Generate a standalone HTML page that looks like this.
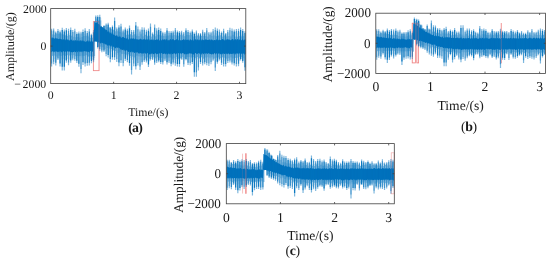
<!DOCTYPE html>
<html><head><meta charset="utf-8"><title>Figure</title>
<style>
html,body{margin:0;padding:0;background:#fff;}
svg{display:block;font-family:"Liberation Serif","Times New Roman",serif;fill:#1a1a1a;text-rendering:geometricPrecision;}
</style></head><body>
<svg width="550" height="262" viewBox="0 0 550 262">
<rect width="550" height="262" fill="#fff"/>
<rect x="93.31" y="21.7" width="5.73" height="49.0" stroke="#EE7A7A" stroke-width="0.7" fill="none" opacity="0.90"/>
<polygon fill="#0072BD" points="51.2,38.4 51.7,37.8 52.1,36.9 52.6,37.8 53.0,38.4 53.5,37.7 54.0,38.3 54.4,38.6 54.9,38.8 55.4,37.5 55.8,38.2 56.3,39.0 56.7,37.8 57.2,38.6 57.7,38.4 58.1,39.3 58.6,39.0 59.1,39.1 59.5,38.4 60.0,38.9 60.4,39.1 60.9,38.8 61.4,39.2 61.8,39.4 62.3,39.9 62.8,39.5 63.2,39.1 63.7,39.6 64.1,40.3 64.6,39.5 65.1,38.7 65.5,40.5 66.0,39.5 66.5,38.9 66.9,39.1 67.4,39.2 67.8,40.2 68.3,39.4 68.8,40.6 69.2,40.3 69.7,40.6 70.2,40.2 70.6,39.5 71.1,40.2 71.5,39.4 72.0,39.6 72.5,41.1 72.9,40.7 73.4,39.8 73.9,41.0 74.3,41.2 74.8,39.8 75.2,40.2 75.7,39.9 76.2,41.4 76.6,40.6 77.1,40.5 77.6,40.0 78.0,41.3 78.5,40.3 78.9,41.2 79.4,41.3 79.9,40.0 80.3,40.7 80.8,39.9 81.3,41.4 81.7,40.0 82.2,40.9 82.6,40.2 83.1,40.6 83.6,40.8 84.0,41.8 84.5,40.4 85.0,41.9 85.4,41.8 85.9,41.9 86.3,40.6 86.8,41.7 87.3,40.9 87.7,40.1 88.2,42.0 88.7,40.3 89.1,40.6 89.6,40.9 90.0,42.0 90.5,41.6 91.0,40.4 91.4,40.9 91.9,41.5 92.4,41.8 92.8,41.2 93.3,40.8 93.7,41.8 94.2,21.7 94.7,20.9 95.1,22.7 95.6,22.7 96.1,22.9 96.5,22.0 97.0,22.9 97.4,23.0 97.9,23.4 98.4,24.0 98.8,24.2 99.3,24.6 99.7,24.4 100.2,25.8 100.7,26.9 101.1,25.8 101.6,26.3 102.1,27.5 102.5,27.3 103.0,27.1 103.4,28.3 103.9,28.2 104.4,28.6 104.8,28.7 105.3,28.9 105.8,30.3 106.2,29.9 106.7,29.8 107.1,30.1 107.6,31.8 108.1,31.7 108.5,31.6 109.0,31.2 109.5,32.1 109.9,33.4 110.4,32.6 110.8,32.8 111.3,32.3 111.8,34.3 112.2,33.9 112.7,33.2 113.2,33.4 113.6,34.7 114.1,35.0 114.5,34.9 115.0,35.3 115.5,35.8 115.9,36.0 116.4,35.4 116.9,34.9 117.3,35.4 117.8,36.7 118.2,36.8 118.7,37.1 119.2,35.6 119.6,36.5 120.1,37.2 120.6,36.0 121.0,37.9 121.5,37.9 121.9,37.1 122.4,36.7 122.9,37.6 123.3,36.8 123.8,37.2 124.3,38.1 124.7,37.8 125.2,38.4 125.6,38.2 126.1,38.6 126.6,38.8 127.0,37.4 127.5,37.5 128.0,39.2 128.4,39.2 128.9,39.4 129.3,39.1 129.8,37.7 130.3,38.3 130.7,39.4 131.2,37.9 131.7,38.7 132.1,38.4 132.6,38.8 133.0,38.5 133.5,38.3 134.0,38.4 134.4,39.6 134.9,38.5 135.4,38.2 135.8,39.6 136.3,39.1 136.7,39.4 137.2,39.6 137.7,39.3 138.1,39.3 138.6,39.9 139.1,39.0 139.5,39.4 140.0,39.6 140.4,38.7 140.9,38.5 141.4,39.4 141.8,39.6 142.3,39.8 142.8,39.4 143.2,39.6 143.7,38.9 144.1,39.8 144.6,38.6 145.1,38.8 145.5,40.0 146.0,39.4 146.5,38.7 146.9,40.0 147.4,39.6 147.8,39.3 148.3,39.3 148.8,38.8 149.2,38.8 149.7,40.4 150.1,40.0 150.6,39.7 151.1,39.4 151.5,39.9 152.0,39.0 152.5,40.1 152.9,40.2 153.4,40.2 153.8,38.8 154.3,40.4 154.8,39.8 155.2,39.9 155.7,40.0 156.2,39.0 156.6,39.8 157.1,39.6 157.5,39.9 158.0,38.8 158.5,39.1 158.9,39.7 159.4,40.5 159.9,40.5 160.3,39.1 160.8,39.3 161.2,40.3 161.7,40.5 162.2,38.8 162.6,40.3 163.1,38.8 163.6,39.9 164.0,40.1 164.5,39.3 164.9,39.1 165.4,39.5 165.9,40.4 166.3,39.5 166.8,38.8 167.3,39.8 167.7,40.6 168.2,40.4 168.6,39.7 169.1,40.6 169.6,40.0 170.0,38.9 170.5,38.9 171.0,39.9 171.4,39.5 171.9,40.6 172.3,38.8 172.8,39.5 173.3,38.9 173.7,39.6 174.2,40.2 174.7,40.2 175.1,40.0 175.6,40.1 176.0,39.3 176.5,39.0 177.0,40.3 177.4,39.0 177.9,39.2 178.4,40.4 178.8,40.1 179.3,39.0 179.7,40.4 180.2,40.6 180.7,39.9 181.1,40.2 181.6,40.5 182.1,39.9 182.5,39.7 183.0,40.1 183.4,39.2 183.9,38.9 184.4,40.4 184.8,39.3 185.3,40.4 185.8,39.0 186.2,39.8 186.7,40.2 187.1,39.4 187.6,39.8 188.1,40.3 188.5,39.3 189.0,40.4 189.5,40.5 189.9,39.2 190.4,39.8 190.8,39.1 191.3,40.6 191.8,40.0 192.2,39.2 192.7,40.5 193.2,39.2 193.6,40.7 194.1,40.6 194.5,39.5 195.0,39.5 195.5,39.4 195.9,39.1 196.4,40.1 196.9,40.4 197.3,39.4 197.8,39.0 198.2,40.4 198.7,39.9 199.2,39.3 199.6,40.6 200.1,39.2 200.5,40.0 201.0,39.5 201.5,39.8 201.9,40.7 202.4,39.6 202.9,39.2 203.3,39.9 203.8,40.2 204.2,39.4 204.7,40.4 205.2,39.6 205.6,39.6 206.1,39.0 206.6,40.0 207.0,39.9 207.5,39.8 207.9,40.1 208.4,39.9 208.9,39.5 209.3,38.9 209.8,40.2 210.3,39.2 210.7,40.6 211.2,39.9 211.6,39.3 212.1,39.4 212.6,40.1 213.0,40.6 213.5,40.4 214.0,39.7 214.4,39.9 214.9,39.9 215.3,40.1 215.8,40.6 216.3,39.7 216.7,39.1 217.2,40.1 217.7,40.2 218.1,40.5 218.6,39.4 219.0,40.0 219.5,39.6 220.0,39.9 220.4,40.1 220.9,40.3 221.4,39.7 221.8,39.3 222.3,39.3 222.7,39.0 223.2,39.1 223.7,40.2 224.1,39.2 224.6,40.5 225.1,40.6 225.5,39.6 226.0,40.4 226.4,39.6 226.9,39.2 227.4,39.6 227.8,39.0 228.3,39.0 228.8,40.3 229.2,39.3 229.7,39.8 230.1,40.4 230.6,39.8 231.1,40.3 231.5,39.4 232.0,39.3 232.5,39.1 232.9,39.0 233.4,39.3 233.8,40.5 234.3,40.0 234.8,39.5 235.2,39.2 235.7,38.9 236.2,40.2 236.6,40.2 237.1,39.0 237.5,39.1 238.0,39.4 238.5,40.6 238.9,39.5 239.4,40.0 239.9,38.8 240.3,38.8 240.8,39.8 241.2,40.3 241.7,40.2 242.2,39.0 242.6,39.0 243.1,40.1 243.6,40.7 244.0,39.1 244.5,39.8 244.9,39.9 245.4,39.1 245.4,53.8 244.9,54.6 244.5,54.7 244.0,53.3 243.6,53.9 243.1,53.3 242.6,54.0 242.2,53.6 241.7,53.6 241.2,54.1 240.8,54.4 240.3,54.4 239.9,54.4 239.4,52.9 238.9,53.5 238.5,54.2 238.0,53.1 237.5,54.3 237.1,52.9 236.6,54.0 236.2,53.0 235.7,53.7 235.2,54.7 234.8,54.6 234.3,52.9 233.8,54.6 233.4,53.2 232.9,53.6 232.5,53.9 232.0,53.7 231.5,54.0 231.1,54.0 230.6,53.7 230.1,53.8 229.7,54.2 229.2,54.5 228.8,53.4 228.3,53.4 227.8,53.8 227.4,54.2 226.9,53.5 226.4,54.4 226.0,52.9 225.5,54.1 225.1,53.6 224.6,54.0 224.1,54.0 223.7,53.2 223.2,53.8 222.7,53.5 222.3,54.4 221.8,54.3 221.4,54.0 220.9,53.7 220.4,54.3 220.0,54.7 219.5,53.1 219.0,53.9 218.6,53.2 218.1,53.8 217.7,54.2 217.2,54.6 216.7,53.1 216.3,53.4 215.8,54.7 215.3,54.0 214.9,52.9 214.4,53.1 214.0,54.4 213.5,53.9 213.0,54.5 212.6,53.5 212.1,54.6 211.6,54.6 211.2,54.3 210.7,54.0 210.3,53.9 209.8,53.3 209.3,54.4 208.9,53.6 208.4,53.1 207.9,53.5 207.5,54.3 207.0,53.6 206.6,53.6 206.1,53.1 205.6,54.4 205.2,53.2 204.7,53.0 204.2,53.2 203.8,54.5 203.3,53.9 202.9,53.0 202.4,53.2 201.9,54.7 201.5,54.5 201.0,53.3 200.5,54.4 200.1,53.3 199.6,54.6 199.2,53.0 198.7,53.0 198.2,53.3 197.8,53.6 197.3,54.2 196.9,54.1 196.4,54.1 195.9,52.9 195.5,53.3 195.0,53.0 194.5,54.6 194.1,54.1 193.6,54.4 193.2,54.6 192.7,53.9 192.2,54.1 191.8,53.4 191.3,53.8 190.8,53.2 190.4,53.8 189.9,53.3 189.5,53.7 189.0,52.9 188.5,54.6 188.1,53.4 187.6,53.8 187.1,54.5 186.7,54.5 186.2,54.0 185.8,53.4 185.3,54.3 184.8,54.5 184.4,54.2 183.9,53.6 183.4,53.4 183.0,53.1 182.5,53.2 182.1,53.2 181.6,54.1 181.1,53.6 180.7,53.8 180.2,52.9 179.7,53.4 179.3,53.7 178.8,53.6 178.4,53.1 177.9,52.9 177.4,53.0 177.0,54.6 176.5,53.0 176.0,54.1 175.6,54.5 175.1,54.3 174.7,52.9 174.2,53.8 173.7,53.3 173.3,53.7 172.8,54.1 172.3,53.9 171.9,54.7 171.4,53.5 171.0,53.1 170.5,54.5 170.0,53.9 169.6,54.6 169.1,53.4 168.6,53.7 168.2,53.6 167.7,54.5 167.3,54.5 166.8,53.8 166.3,53.5 165.9,53.8 165.4,54.7 164.9,53.1 164.5,53.8 164.0,53.9 163.6,53.7 163.1,53.9 162.6,53.3 162.2,54.5 161.7,53.0 161.2,52.9 160.8,53.0 160.3,54.1 159.9,53.3 159.4,53.6 158.9,53.5 158.5,53.1 158.0,54.3 157.5,53.8 157.1,53.8 156.6,54.2 156.2,54.2 155.7,53.2 155.2,53.3 154.8,54.1 154.3,53.2 153.8,54.4 153.4,53.9 152.9,53.9 152.5,53.5 152.0,53.1 151.5,54.5 151.1,53.5 150.6,54.6 150.1,53.4 149.7,54.4 149.2,54.5 148.8,54.4 148.3,54.4 147.8,52.8 147.4,53.6 146.9,52.9 146.5,54.4 146.0,54.0 145.5,53.1 145.1,54.0 144.6,52.6 144.1,53.1 143.7,53.2 143.2,54.0 142.8,52.7 142.3,54.0 141.8,53.5 141.4,53.5 140.9,53.3 140.4,52.8 140.0,53.4 139.5,53.8 139.1,52.5 138.6,53.2 138.1,53.7 137.7,52.4 137.2,51.9 136.7,52.7 136.3,52.5 135.8,52.0 135.4,52.2 134.9,53.0 134.4,53.0 134.0,52.6 133.5,52.1 133.0,51.8 132.6,53.0 132.1,51.5 131.7,51.8 131.2,51.4 130.7,52.6 130.3,52.3 129.8,51.7 129.3,51.3 128.9,51.8 128.4,51.9 128.0,51.7 127.5,51.1 127.0,50.6 126.6,50.2 126.1,50.6 125.6,51.0 125.2,50.7 124.7,50.9 124.3,50.1 123.8,49.2 123.3,50.5 122.9,50.3 122.4,49.8 121.9,50.2 121.5,49.1 121.0,50.1 120.6,49.0 120.1,49.4 119.6,48.1 119.2,47.9 118.7,47.6 118.2,47.7 117.8,47.5 117.3,48.1 116.9,47.7 116.4,47.0 115.9,48.6 115.5,48.1 115.0,48.2 114.5,46.7 114.1,48.0 113.6,46.2 113.2,47.2 112.7,46.4 112.2,46.3 111.8,46.9 111.3,45.6 110.8,45.8 110.4,46.7 109.9,46.3 109.5,45.4 109.0,44.7 108.5,45.3 108.1,45.7 107.6,45.4 107.1,45.6 106.7,44.7 106.2,44.2 105.8,44.5 105.3,44.5 104.8,43.6 104.4,43.6 103.9,44.5 103.4,43.0 103.0,43.6 102.5,42.7 102.1,42.9 101.6,42.6 101.1,43.3 100.7,43.8 100.2,42.9 99.7,43.5 99.3,41.8 98.8,42.7 98.4,41.8 97.9,42.9 97.4,41.0 97.0,41.9 96.5,41.4 96.1,41.4 95.6,41.3 95.1,41.2 94.7,42.0 94.2,40.9 93.7,51.5 93.3,51.1 92.8,51.4 92.4,51.8 91.9,51.6 91.4,50.9 91.0,50.8 90.5,51.0 90.0,51.3 89.6,52.4 89.1,52.4 88.7,51.6 88.2,52.3 87.7,51.2 87.3,52.6 86.8,51.4 86.3,51.6 85.9,51.8 85.4,51.1 85.0,51.5 84.5,50.9 84.0,51.3 83.6,51.1 83.1,52.3 82.6,51.1 82.2,52.1 81.7,51.2 81.3,52.4 80.8,51.3 80.3,52.3 79.9,50.9 79.4,52.3 78.9,51.9 78.5,51.0 78.0,51.2 77.6,52.6 77.1,51.9 76.6,50.9 76.2,51.6 75.7,52.2 75.2,52.2 74.8,51.6 74.3,51.5 73.9,52.0 73.4,52.1 72.9,51.7 72.5,52.4 72.0,52.5 71.5,52.1 71.1,52.2 70.6,51.8 70.2,52.2 69.7,51.6 69.2,51.4 68.8,51.4 68.3,51.7 67.8,51.7 67.4,51.0 66.9,51.7 66.5,52.6 66.0,51.2 65.5,51.4 65.1,52.1 64.6,52.1 64.1,52.1 63.7,50.8 63.2,51.8 62.8,51.6 62.3,52.2 61.8,52.5 61.4,52.1 60.9,51.5 60.4,51.4 60.0,51.3 59.5,51.4 59.1,52.4 58.6,51.7 58.1,51.7 57.7,51.7 57.2,52.2 56.7,51.0 56.3,51.8 55.8,52.6 55.4,50.8 54.9,51.6 54.4,52.5 54.0,50.9 53.5,52.3 53.0,51.7 52.6,50.9 52.1,51.8 51.7,52.1 51.2,52.2"/>
<path d="M51.60 28.7V66.5M53.65 28.6V64.2M55.78 31.4V65.4M57.97 29.1V60.1M60.07 30.5V66.4M62.24 27.7V70.5M64.31 29.4V70.5M66.34 27.9V62.7M68.53 28.8V65.2M70.73 27.5V62.7M72.76 29.9V60.2M74.82 28.8V60.7M76.84 32.3V63.1M78.89 31.6V66.7M80.99 31.7V73.3M83.00 29.6V65.0M85.13 28.2V66.5M87.27 30.9V65.7M89.29 28.9V65.5M91.43 33.8V63.3M93.53 30.0V62.3M95.72 15.6V41.4M97.73 15.2V48.4M99.77 14.8V50.7M101.86 27.8V52.3M103.97 25.3V52.0M106.15 23.4V56.3M108.17 22.7V57.6M110.30 27.1V62.3M112.46 25.4V59.8M114.61 17.6V59.9M116.77 27.6V61.9M118.95 25.3V66.2M121.00 23.8V62.9M123.17 29.6V66.2M125.28 27.4V61.0M127.42 28.7V62.2M129.50 25.6V65.8M131.55 30.1V74.6M133.71 30.0V66.3M135.81 22.1V69.6M137.90 26.6V65.4M140.03 29.5V70.1M142.07 27.2V64.7M144.24 27.4V62.1M146.41 29.7V62.5M148.46 28.5V67.1M150.49 23.6V60.4M152.63 32.6V60.1M154.65 24.6V64.7M156.72 28.2V63.1M158.71 27.5V62.3M160.73 28.6V64.1M162.82 31.7V64.5M165.01 32.3V60.9M167.02 28.1V64.5M169.03 30.9V63.1M171.14 31.0V66.2M173.14 30.7V64.6M175.34 27.9V65.8M177.41 30.4V66.6M179.46 30.9V66.8M181.60 30.7V59.8M183.77 31.9V66.8M185.97 28.2V60.2M188.05 30.0V65.1M190.18 31.4V65.3M192.30 29.4V64.1M194.36 32.4V76.8M196.40 30.6V76.8M198.42 33.0V70.6M200.51 32.9V64.0M202.68 29.7V65.6M204.71 31.9V64.3M206.77 28.1V65.2M208.89 31.9V66.1M211.01 31.7V64.3M213.13 29.1V60.8M215.28 27.6V71.0M217.34 28.5V63.7M219.36 29.6V60.4M221.54 31.4V65.0M223.63 28.8V66.6M225.66 32.9V66.6M227.79 29.9V63.0M229.91 27.7V62.4M232.03 28.5V64.6M234.22 29.5V65.6M236.37 28.9V66.4M238.51 28.7V66.2M240.61 27.5V60.5M242.74 28.9V62.7M244.89 31.2V70.7" stroke="#0072BD" stroke-width="1.2" fill="none" opacity="0.5"/>
<path d="M51.60 30.5V63.5M53.65 30.6V61.7M68.53 31.0V62.4M72.76 32.0V58.5M74.82 31.2V58.9M80.99 33.5V68.9M95.72 17.0V41.4M106.15 24.8V53.9M116.77 29.3V59.1M123.17 31.2V62.9M131.55 31.9V70.1M133.71 31.8V63.5M137.90 29.2V62.9M140.03 31.5V66.6M150.49 26.8V59.0M152.63 34.1V58.8M156.72 30.5V61.2M165.01 33.8V59.4M169.03 32.7V61.2M175.34 30.3V63.3M181.60 32.5V58.5M183.77 33.5V64.2M190.18 33.1V63.0M196.40 32.5V72.2M198.42 34.3V67.2M202.68 31.8V63.2M206.77 30.4V62.9M208.89 33.5V63.6M211.01 33.3V62.1M213.13 31.3V59.4M215.28 30.1V67.5M219.36 31.7V59.0M223.63 31.0V64.0M227.79 31.9V61.1M229.91 30.2V60.6M236.37 31.1V63.9" stroke="#0072BD" stroke-width="1.25" fill="none" opacity="0.50"/>
<path d="M55.78 32.8V62.7M57.97 31.0V58.4M85.13 30.8V63.5M87.27 32.9V62.9M89.29 31.4V62.7M99.77 17.0V49.0M101.86 27.8V50.5M110.30 28.3V59.0M114.61 21.1V57.3M121.00 26.4V60.2M127.42 30.7V59.9M142.07 29.7V62.3M144.24 29.8V60.3M146.41 31.7V60.6M154.65 27.7V62.5M162.82 33.3V62.3M173.14 32.5V62.4M188.05 32.0V62.8M204.71 33.5V62.2M221.54 33.1V62.7M225.66 34.3V64.0M232.03 30.8V62.4M238.51 30.9V63.7M244.89 32.9V67.2" stroke="#0072BD" stroke-width="1.25" fill="none" opacity="0.70"/>
<path d="M60.07 32.3V63.4M62.24 30.0V66.7M64.31 31.4V66.7M66.34 30.3V60.4M70.73 30.1V60.5M76.84 34.0V60.8M78.89 33.4V63.7M83.00 31.9V62.3M91.43 35.3V60.9M93.53 32.3V60.2M97.73 17.0V47.1M103.97 26.0V50.4M108.17 24.5V55.1M112.46 27.1V57.2M118.95 27.6V62.6M125.28 29.5V58.8M129.50 28.2V62.9M135.81 25.5V66.2M148.46 30.7V64.4M158.71 30.0V60.5M160.73 30.9V62.0M167.02 30.4V62.3M171.14 32.8V63.7M177.41 32.3V64.0M179.46 32.7V64.1M185.97 30.6V58.9M192.30 31.5V62.0M194.36 33.9V72.2M200.51 34.3V61.9M217.34 30.8V61.7M234.22 31.6V63.2M240.61 30.0V59.1M242.74 31.1V60.9" stroke="#0072BD" stroke-width="1.25" fill="none" opacity="0.90"/>
<path d="M52.65 31.3V56.2M54.70 31.7V58.9M56.83 33.4V59.8M59.02 33.4V58.4M61.12 33.0V59.6M63.29 34.7V59.0M65.36 35.1V59.9M67.39 34.0V59.0M69.58 33.2V59.6M71.78 35.9V58.7M73.81 32.1V56.5M75.87 34.7V56.0M77.89 33.3V57.8M79.94 35.7V56.0M82.04 32.6V57.5M84.05 34.0V55.8M86.18 34.3V56.3M88.32 34.8V56.3M90.34 34.7V59.4M92.48 34.9V59.6M94.58 35.9V58.1M96.77 15.9V41.3M98.78 16.5V46.8M100.82 17.8V47.1M102.91 27.2V48.6M105.02 26.0V50.8M107.20 25.2V51.2M109.22 26.9V52.6M111.35 28.3V51.5M113.51 28.9V50.9M115.66 27.2V54.6M117.82 29.2V54.8M120.00 30.1V56.7M122.05 30.7V53.6M124.22 30.7V56.5M126.33 30.5V56.6M128.47 30.6V56.2M130.55 34.3V58.1M132.60 32.4V59.8M134.76 34.3V58.6M136.86 33.9V60.7M138.95 33.6V59.4M141.08 33.2V60.0M143.12 33.2V60.8M145.29 34.6V59.3M147.46 35.4V61.1M149.51 31.9V61.4M151.54 33.5V59.0M153.68 34.0V57.7M155.70 34.0V59.1M157.77 31.5V58.5M159.76 32.2V60.2M161.78 35.1V61.9M163.87 35.4V61.1M166.06 34.5V58.5M168.07 35.1V59.5M170.08 34.5V58.1M172.19 33.7V59.9M174.19 31.9V60.0M176.39 32.6V59.0M178.46 32.4V60.5M180.51 31.9V59.0M182.65 34.1V59.6M184.82 35.9V60.4M187.02 32.6V60.1M189.10 35.4V59.3M191.23 32.8V58.2M193.35 32.4V60.6M195.41 34.1V59.6M197.45 35.6V58.7M199.47 35.3V58.3M201.56 35.9V58.1M203.73 33.5V58.3M205.76 32.7V62.0M207.82 33.1V60.7M209.94 34.8V59.4M212.06 32.2V61.9M214.18 33.4V59.0M216.33 33.1V61.3M218.39 34.8V61.6M220.41 33.2V59.9M222.59 32.8V58.0M224.68 34.3V60.9M226.71 33.3V60.8M228.84 33.1V61.0M230.96 35.3V60.5M233.08 32.5V61.0M235.27 32.0V57.9M237.42 32.8V60.4M239.56 32.0V60.8M241.66 34.7V58.8M243.79 34.2V60.3" stroke="#0072BD" stroke-width="1.0" fill="none" opacity="0.18"/>
<path d="M52.65 34.4V55.8M54.70 34.7V55.6M56.83 33.9V56.5M59.02 34.0V55.6M61.12 34.2V55.9M63.29 34.4V55.4M65.36 35.5V55.8M67.39 35.8V55.2M69.58 35.2V55.5M71.78 35.6V55.2M73.81 36.7V55.1M75.87 37.2V56.3M77.89 37.0V56.0M79.94 37.6V56.2M82.04 37.1V55.8M84.05 36.0V55.9M86.18 35.9V55.0M88.32 36.4V56.6M90.34 37.9V56.4M92.48 37.7V56.6M94.58 37.3V56.1M96.77 18.6V41.4M98.78 20.3V46.7M100.82 20.4V46.5M102.91 27.2V47.1M105.02 25.8V49.0M107.20 27.2V48.0M109.22 27.6V48.5M111.35 29.2V49.1M113.51 30.1V50.3M115.66 31.3V51.0M117.82 31.2V52.9M120.00 31.9V52.4M122.05 32.5V54.1M124.22 32.6V54.1M126.33 34.8V54.7M128.47 34.6V54.4M130.55 34.3V56.1M132.60 35.3V56.6M134.76 34.3V57.3M136.86 35.7V55.7M138.95 36.1V56.4M141.08 34.3V56.7M143.12 36.3V56.2M145.29 34.8V58.3M147.46 36.3V57.4M149.51 35.7V58.6M151.54 36.6V56.8M153.68 35.1V56.8M155.70 36.3V57.8M157.77 34.7V56.9M159.76 34.8V58.2M161.78 35.8V57.9M163.87 36.0V58.6M166.06 36.1V57.7M168.07 35.8V57.6M170.08 35.3V57.3M172.19 35.6V58.7M174.19 35.1V58.3M176.39 35.4V56.9M178.46 35.7V58.8M180.51 34.7V58.2M182.65 35.3V56.9M184.82 36.3V58.5M187.02 35.0V57.0M189.10 35.1V57.1M191.23 34.8V57.3M193.35 36.5V57.2M195.41 36.2V57.9M197.45 35.6V57.0M199.47 36.3V58.4M201.56 35.8V56.9M203.73 35.9V58.8M205.76 36.0V57.5M207.82 36.6V57.3M209.94 35.1V57.7M212.06 35.8V57.4M214.18 35.5V58.3M216.33 36.2V57.7M218.39 35.8V57.5M220.41 35.3V58.2M222.59 36.6V57.1M224.68 35.6V57.7M226.71 36.4V58.6M228.84 36.1V58.3M230.96 36.5V57.4M233.08 34.8V58.4M235.27 36.5V58.0M237.42 36.7V57.8M239.56 36.1V56.8M241.66 36.4V57.0M243.79 36.2V58.4" stroke="#0072BD" stroke-width="1.0" fill="none" opacity="0.4"/>
<rect x="93.31" y="21.7" width="5.73" height="49.0" stroke="#EE7A7A" stroke-width="0.7" fill="none" opacity="0.40"/>
<rect x="50.70" y="8.60" width="195.10" height="75.00" fill="none" stroke="#404040" stroke-width="0.8"/>
<path d="M113.63 83.60v-1.80M113.63 8.60v1.80M176.57 83.60v-1.80M176.57 8.60v1.80M239.50 83.60v-1.80M239.50 8.60v1.80M50.70 46.10h1.80M245.80 46.10h-1.80" stroke="#404040" stroke-width="0.8" fill="none"/>
<text x="46.70" y="12.55" font-size="11.80" text-anchor="end">2000</text>
<text x="46.40" y="50.15" font-size="11.80" text-anchor="end">0</text>
<text x="46.20" y="88.15" dx="0 1.8" font-size="11.80" text-anchor="end">−2000</text>
<text x="50.70" y="99.20" font-size="11.80" text-anchor="middle">0</text>
<text x="113.63" y="99.20" font-size="11.80" text-anchor="middle">1</text>
<text x="176.57" y="99.20" font-size="11.80" text-anchor="middle">2</text>
<text x="239.50" y="99.20" font-size="11.80" text-anchor="middle">3</text>
<text x="148.25" y="116.00" font-size="11.80" text-anchor="middle">Time/(s)</text>
<text transform="translate(13.50 46.70) rotate(-90)" font-size="12.00" text-anchor="middle">Amplitude/(g)</text>
<text x="135.10" y="131.70" font-size="13.80" font-weight="bold" letter-spacing="-0.8" text-anchor="middle">(a)</text>
<rect x="412.22" y="23.2" width="3.28" height="39.7" stroke="#EE7A7A" stroke-width="0.7" fill="none" opacity="0.90"/>
<rect x="416.86" y="23.2" width="1.80" height="39.7" stroke="#EE7A7A" stroke-width="0.7" fill="none" opacity="0.90"/>
<path d="M501.30 63.2V23.0" stroke="#EE7A7A" stroke-width="0.7" fill="none" opacity="0.90"/>
<polygon fill="#0072BD" points="376.3,37.1 376.7,36.6 377.1,35.9 377.5,36.7 377.9,37.1 378.3,36.5 378.7,37.1 379.1,37.3 379.5,37.4 379.9,36.4 380.3,37.0 380.7,37.6 381.1,36.6 381.5,37.3 381.9,37.1 382.3,37.8 382.7,37.6 383.1,37.7 383.5,37.2 383.9,37.5 384.3,37.7 384.7,37.5 385.1,37.8 385.5,37.9 386.0,38.3 386.4,38.0 386.8,37.7 387.2,38.1 387.6,38.6 388.0,38.0 388.4,37.4 388.8,38.8 389.2,38.0 389.6,37.5 390.0,37.7 390.4,37.8 390.8,38.6 391.2,38.0 391.6,38.9 392.0,38.7 392.4,38.9 392.8,38.5 393.2,38.0 393.6,38.6 394.0,38.0 394.4,38.1 394.8,39.3 395.2,39.0 395.6,38.2 396.0,39.2 396.4,39.4 396.8,38.3 397.2,38.6 397.6,38.3 398.0,39.5 398.4,38.9 398.8,38.8 399.2,38.4 399.6,39.5 400.0,38.7 400.4,39.4 400.8,39.5 401.2,38.4 401.6,38.9 402.0,38.3 402.4,39.5 402.8,38.4 403.2,39.2 403.6,38.6 404.0,38.9 404.4,39.0 404.9,39.8 405.3,38.7 405.7,39.9 406.1,39.8 406.5,39.9 406.9,38.9 407.3,39.8 407.7,39.1 408.1,38.5 408.5,40.0 408.9,38.6 409.3,38.9 409.7,39.1 410.1,40.0 410.5,39.7 410.9,38.7 411.3,39.1 411.7,39.6 412.1,39.9 412.5,39.3 412.9,39.0 413.3,23.9 413.7,23.8 414.1,23.1 414.5,24.6 414.9,24.6 415.3,24.8 415.7,24.1 416.1,24.8 416.5,24.9 416.9,25.2 417.3,25.7 417.7,25.9 418.1,26.2 418.5,26.0 418.9,27.1 419.3,28.0 419.7,27.1 420.1,27.5 420.5,28.5 420.9,28.3 421.3,28.2 421.7,29.1 422.1,29.0 422.5,29.4 422.9,29.4 423.4,29.6 423.8,30.7 424.2,30.4 424.6,30.4 425.0,30.5 425.4,32.0 425.8,31.9 426.2,31.8 426.6,31.4 427.0,32.2 427.4,33.2 427.8,32.6 428.2,32.7 428.6,32.3 429.0,33.9 429.4,33.6 429.8,33.0 430.2,33.2 430.6,34.2 431.0,34.5 431.4,34.4 431.8,34.7 432.2,35.1 432.6,35.3 433.0,34.8 433.4,34.3 433.8,34.8 434.2,35.9 434.6,35.9 435.0,36.2 435.4,34.9 435.8,35.7 436.2,36.2 436.6,35.2 437.0,36.7 437.4,36.8 437.8,36.1 438.2,35.8 438.6,36.5 439.0,35.9 439.4,36.2 439.8,36.9 440.2,36.6 440.6,37.1 441.0,37.0 441.4,37.3 441.8,37.5 442.3,36.3 442.7,36.4 443.1,37.8 443.5,37.8 443.9,37.9 444.3,37.7 444.7,36.6 445.1,37.1 445.5,37.9 445.9,36.8 446.3,37.4 446.7,37.1 447.1,37.5 447.5,37.2 447.9,37.1 448.3,37.1 448.7,38.1 449.1,37.2 449.5,37.0 449.9,38.1 450.3,37.7 450.7,38.0 451.1,38.1 451.5,37.8 451.9,37.9 452.3,38.3 452.7,37.6 453.1,37.9 453.5,38.1 453.9,37.4 454.3,37.2 454.7,37.9 455.1,38.1 455.5,38.3 455.9,37.9 456.3,38.1 456.7,37.5 457.1,38.2 457.5,37.3 457.9,37.4 458.3,38.4 458.7,37.9 459.1,37.4 459.5,38.4 459.9,38.1 460.3,37.8 460.8,37.8 461.2,37.4 461.6,37.4 462.0,38.8 462.4,38.4 462.8,38.2 463.2,37.9 463.6,38.3 464.0,37.6 464.4,38.5 464.8,38.5 465.2,38.5 465.6,37.5 466.0,38.7 466.4,38.3 466.8,38.3 467.2,38.4 467.6,37.6 468.0,38.3 468.4,38.1 468.8,38.3 469.2,37.4 469.6,37.7 470.0,38.1 470.4,38.8 470.8,38.8 471.2,37.7 471.6,37.9 472.0,38.7 472.4,38.8 472.8,37.5 473.2,38.6 473.6,37.5 474.0,38.4 474.4,38.5 474.8,37.8 475.2,37.7 475.6,38.0 476.0,38.7 476.4,38.0 476.8,37.5 477.2,38.2 477.6,38.9 478.0,38.7 478.4,38.2 478.8,38.9 479.2,38.4 479.7,37.5 480.1,37.5 480.5,38.4 480.9,38.0 481.3,38.9 481.7,37.5 482.1,38.0 482.5,37.5 482.9,38.1 483.3,38.6 483.7,38.6 484.1,38.4 484.5,38.5 484.9,37.9 485.3,37.6 485.7,38.7 486.1,37.6 486.5,37.8 486.9,38.7 487.3,38.5 487.7,37.6 488.1,38.7 488.5,38.9 488.9,38.3 489.3,38.6 489.7,38.8 490.1,38.3 490.5,38.2 490.9,38.5 491.3,37.8 491.7,37.5 492.1,38.7 492.5,37.8 492.9,38.7 493.3,37.6 493.7,38.3 494.1,38.6 494.5,37.9 494.9,38.3 495.3,38.6 495.7,37.8 496.1,38.7 496.5,38.8 496.9,37.7 497.3,38.2 497.7,37.7 498.1,38.9 498.6,38.4 499.0,37.8 499.4,38.8 499.8,37.7 500.2,38.9 500.6,38.9 501.0,38.0 501.4,38.0 501.8,37.9 502.2,37.7 502.6,38.4 503.0,38.7 503.4,37.9 503.8,37.6 504.2,38.7 504.6,38.3 505.0,37.9 505.4,38.8 505.8,37.7 506.2,38.4 506.6,38.0 507.0,38.3 507.4,38.9 507.8,38.1 508.2,37.7 508.6,38.3 509.0,38.6 509.4,37.9 509.8,38.7 510.2,38.1 510.6,38.1 511.0,37.6 511.4,38.4 511.8,38.4 512.2,38.2 512.6,38.5 513.0,38.3 513.4,38.0 513.8,37.6 514.2,38.6 514.6,37.8 515.0,38.9 515.4,38.3 515.8,37.8 516.2,37.9 516.6,38.5 517.0,38.8 517.5,38.7 517.9,38.2 518.3,38.4 518.7,38.4 519.1,38.5 519.5,38.8 519.9,38.1 520.3,37.7 520.7,38.5 521.1,38.6 521.5,38.8 521.9,37.9 522.3,38.4 522.7,38.0 523.1,38.3 523.5,38.5 523.9,38.6 524.3,38.2 524.7,37.9 525.1,37.9 525.5,37.6 525.9,37.7 526.3,38.5 526.7,37.8 527.1,38.8 527.5,38.9 527.9,38.1 528.3,38.7 528.7,38.1 529.1,37.7 529.5,38.1 529.9,37.6 530.3,37.6 530.7,38.6 531.1,37.8 531.5,38.2 531.9,38.7 532.3,38.3 532.7,38.7 533.1,37.9 533.5,37.8 533.9,37.7 534.3,37.6 534.7,37.9 535.1,38.8 535.5,38.4 536.0,38.0 536.4,37.8 536.8,37.5 537.2,38.6 537.6,38.5 538.0,37.6 538.4,37.7 538.8,37.9 539.2,38.9 539.6,38.0 540.0,38.4 540.4,37.4 540.8,37.5 541.2,38.2 541.6,38.6 542.0,38.6 542.4,37.6 542.8,37.6 543.2,38.5 543.6,38.9 544.0,37.7 544.4,38.2 544.8,38.3 545.2,37.7 545.2,49.5 544.8,50.1 544.4,50.2 544.0,49.1 543.6,49.6 543.2,49.1 542.8,49.6 542.4,49.4 542.0,49.3 541.6,49.7 541.2,50.0 540.8,49.9 540.4,50.0 540.0,48.8 539.6,49.3 539.2,49.8 538.8,48.9 538.4,49.9 538.0,48.7 537.6,49.7 537.2,48.8 536.8,49.4 536.4,50.2 536.0,50.1 535.5,48.8 535.1,50.1 534.7,49.0 534.3,49.3 533.9,49.6 533.5,49.4 533.1,49.7 532.7,49.7 532.3,49.4 531.9,49.5 531.5,49.8 531.1,50.1 530.7,49.2 530.3,49.2 529.9,49.5 529.5,49.8 529.1,49.3 528.7,50.0 528.3,48.8 527.9,49.7 527.5,49.3 527.1,49.6 526.7,49.7 526.3,49.0 525.9,49.5 525.5,49.2 525.1,49.9 524.7,49.9 524.3,49.6 523.9,49.4 523.5,49.9 523.1,50.2 522.7,49.0 522.3,49.5 521.9,49.0 521.5,49.5 521.1,49.8 520.7,50.1 520.3,48.9 519.9,49.2 519.5,50.2 519.1,49.7 518.7,48.8 518.3,48.9 517.9,49.9 517.5,49.5 517.0,50.0 516.6,49.2 516.2,50.1 515.8,50.1 515.4,49.9 515.0,49.7 514.6,49.6 514.2,49.1 513.8,50.0 513.4,49.3 513.0,48.9 512.6,49.2 512.2,49.9 511.8,49.3 511.4,49.3 511.0,48.9 510.6,50.0 510.2,49.0 509.8,48.8 509.4,49.0 509.0,50.1 508.6,49.6 508.2,48.8 507.8,49.0 507.4,50.2 507.0,50.0 506.6,49.1 506.2,50.0 505.8,49.1 505.4,50.1 505.0,48.8 504.6,48.8 504.2,49.1 503.8,49.3 503.4,49.8 503.0,49.7 502.6,49.7 502.2,48.8 501.8,49.1 501.4,48.8 501.0,50.2 500.6,49.7 500.2,49.9 499.8,50.1 499.4,49.5 499.0,49.7 498.6,49.2 498.1,49.5 497.7,49.0 497.3,49.5 496.9,49.1 496.5,49.4 496.1,48.8 495.7,50.2 495.3,49.2 494.9,49.5 494.5,50.0 494.1,50.0 493.7,49.7 493.3,49.2 492.9,49.9 492.5,50.0 492.1,49.8 491.7,49.3 491.3,49.1 490.9,48.9 490.5,49.0 490.1,49.0 489.7,49.7 489.3,49.3 488.9,49.5 488.5,48.8 488.1,49.1 487.7,49.4 487.3,49.3 486.9,48.9 486.5,48.7 486.1,48.8 485.7,50.1 485.3,48.8 484.9,49.7 484.5,50.0 484.1,49.8 483.7,48.8 483.3,49.5 482.9,49.1 482.5,49.4 482.1,49.7 481.7,49.5 481.3,50.2 480.9,49.2 480.5,48.9 480.1,50.0 479.7,49.6 479.2,50.2 478.8,49.2 478.4,49.4 478.0,49.3 477.6,50.0 477.2,50.1 476.8,49.4 476.4,49.2 476.0,49.5 475.6,50.2 475.2,48.9 474.8,49.5 474.4,49.6 474.0,49.4 473.6,49.6 473.2,49.1 472.8,50.1 472.4,48.9 472.0,48.8 471.6,48.8 471.2,49.8 470.8,49.1 470.4,49.3 470.0,49.3 469.6,48.9 469.2,49.9 468.8,49.5 468.4,49.5 468.0,49.8 467.6,49.8 467.2,49.0 466.8,49.1 466.4,49.7 466.0,49.0 465.6,50.0 465.2,49.6 464.8,49.6 464.4,49.3 464.0,48.9 463.6,50.1 463.2,49.2 462.8,50.1 462.4,49.1 462.0,50.0 461.6,50.1 461.2,50.0 460.8,49.9 460.3,48.7 459.9,49.4 459.5,48.8 459.1,50.0 458.7,49.6 458.3,48.9 457.9,49.7 457.5,48.5 457.1,48.9 456.7,49.0 456.3,49.6 455.9,48.6 455.5,49.6 455.1,49.3 454.7,49.3 454.3,49.1 453.9,48.7 453.5,49.2 453.1,49.5 452.7,48.5 452.3,49.0 451.9,49.4 451.5,48.4 451.1,47.9 450.7,48.6 450.3,48.5 449.9,48.1 449.5,48.2 449.1,48.9 448.7,48.9 448.3,48.5 447.9,48.1 447.5,47.9 447.1,48.9 446.7,47.7 446.3,48.0 445.9,47.7 445.5,48.6 445.1,48.3 444.7,47.8 444.3,47.5 443.9,47.9 443.5,48.0 443.1,47.9 442.7,47.4 442.3,46.9 441.8,46.7 441.4,47.0 441.0,47.3 440.6,47.0 440.2,47.2 439.8,46.5 439.4,45.9 439.0,46.9 438.6,46.7 438.2,46.3 437.8,46.6 437.4,45.8 437.0,46.6 436.6,45.7 436.2,46.0 435.8,44.9 435.4,44.8 435.0,44.6 434.6,44.7 434.2,44.5 433.8,45.0 433.4,44.6 433.0,44.1 432.6,45.3 432.2,44.9 431.8,45.0 431.4,43.8 431.0,44.9 430.6,43.4 430.2,44.2 429.8,43.6 429.4,43.5 429.0,44.0 428.6,42.9 428.2,43.2 427.8,43.9 427.4,43.5 427.0,42.8 426.6,42.3 426.2,42.7 425.8,43.1 425.4,42.8 425.0,43.0 424.6,42.2 424.2,41.8 423.8,42.1 423.4,42.1 422.9,41.3 422.5,41.3 422.1,42.1 421.7,40.9 421.3,41.3 420.9,40.6 420.5,40.8 420.1,40.6 419.7,41.1 419.3,41.5 418.9,40.8 418.5,41.2 418.1,39.9 417.7,40.6 417.3,39.9 416.9,40.7 416.5,39.3 416.1,40.0 415.7,39.5 415.3,39.6 414.9,39.5 414.5,39.3 414.1,40.0 413.7,39.1 413.3,39.3 412.9,47.3 412.5,47.5 412.1,47.8 411.7,47.7 411.3,47.2 410.9,47.1 410.5,47.2 410.1,47.5 409.7,48.4 409.3,48.4 408.9,47.8 408.5,48.3 408.1,47.4 407.7,48.5 407.3,47.6 406.9,47.7 406.5,47.9 406.1,47.3 405.7,47.6 405.3,47.1 404.9,47.5 404.4,47.3 404.0,48.3 403.6,47.3 403.2,48.1 402.8,47.4 402.4,48.4 402.0,47.5 401.6,48.3 401.2,47.1 400.8,48.2 400.4,47.9 400.0,47.3 399.6,47.4 399.2,48.5 398.8,48.0 398.4,47.1 398.0,47.7 397.6,48.2 397.2,48.2 396.8,47.7 396.4,47.6 396.0,48.1 395.6,48.1 395.2,47.8 394.8,48.4 394.4,48.5 394.0,48.1 393.6,48.2 393.2,47.8 392.8,48.2 392.4,47.7 392.0,47.5 391.6,47.6 391.2,47.8 390.8,47.8 390.4,47.3 390.0,47.8 389.6,48.5 389.2,47.4 388.8,47.5 388.4,48.1 388.0,48.1 387.6,48.1 387.2,47.1 386.8,47.8 386.4,47.7 386.0,48.2 385.5,48.4 385.1,48.1 384.7,47.6 384.3,47.6 383.9,47.5 383.5,47.5 383.1,48.3 382.7,47.8 382.3,47.8 381.9,47.8 381.5,48.2 381.1,47.3 380.7,47.9 380.3,48.5 379.9,47.1 379.5,47.7 379.1,48.4 378.7,47.2 378.3,48.3 377.9,47.8 377.5,47.2 377.1,47.9 376.7,48.2 376.3,48.2"/>
<path d="M376.70 29.3V59.7M378.75 29.3V57.8M380.88 31.5V58.8M383.07 29.7V54.5M385.17 30.9V59.6M387.34 28.6V62.9M389.41 30.0V60.0M391.44 28.9V56.6M393.63 29.5V58.6M395.83 28.6V56.6M397.86 30.5V54.6M399.92 29.7V55.1M401.94 32.5V65.1M403.99 31.9V59.8M406.09 32.0V58.7M408.10 30.3V58.5M410.23 29.3V59.6M412.37 31.4V59.1M414.39 17.6V39.5M416.59 18.8V45.4M418.64 19.5V47.3M420.84 24.4V48.2M422.97 28.1V49.1M425.00 29.0V50.1M427.19 24.5V52.8M429.32 28.7V54.6M431.39 20.4V55.7M433.44 25.2V56.8M435.44 25.5V54.3M437.61 27.9V58.0M439.75 28.2V57.7M441.91 29.7V58.7M444.10 28.0V66.2M446.14 26.8V66.2M448.31 31.1V59.7M450.42 29.4V55.3M452.56 30.4V62.6M454.64 28.1V59.2M456.69 31.5V55.8M458.85 31.4V59.6M460.96 25.3V62.2M463.05 25.2V58.9M465.18 30.5V60.7M467.22 28.5V58.3M469.39 28.4V56.2M471.56 30.2V56.5M473.60 29.2V60.3M475.64 31.7V54.8M477.77 32.5V54.6M479.79 26.1V58.3M481.86 29.0V57.0M483.86 28.4V56.3M485.87 29.3V57.8M487.96 31.7V58.2M490.16 32.3V55.2M492.16 28.9V58.1M494.17 31.1V57.0M496.28 31.2V59.5M498.28 30.9V58.2M500.49 28.7V68.0M502.56 30.7V59.8M504.61 31.1V60.0M506.74 31.0V54.3M508.91 32.0V60.0M511.11 29.0V54.7M513.19 30.4V58.6M515.32 31.5V58.8M517.45 30.0V57.8M519.50 32.4V55.7M521.55 30.9V55.2M523.56 32.8V63.1M525.65 32.7V57.8M527.82 30.2V59.0M529.86 32.0V58.0M531.92 28.9V58.7M534.03 32.0V59.5M536.16 31.8V58.0M538.28 29.7V55.2M540.43 28.5V63.4M542.48 29.3V57.5M544.50 30.1V54.8" stroke="#0072BD" stroke-width="1.2" fill="none" opacity="0.5"/>
<path d="M376.70 30.8V57.3M378.75 30.9V55.8M393.63 31.4V56.4M397.86 32.2V53.2M399.92 31.5V53.6M406.09 33.4V56.5M425.00 29.4V48.5M429.32 29.7V52.4M431.39 23.2V53.4M441.91 31.2V56.3M448.31 32.4V57.5M456.69 32.8V54.4M458.85 32.7V57.5M463.05 27.8V57.0M465.18 32.0V58.4M475.64 33.0V53.7M477.77 33.7V53.6M481.86 30.8V55.4M490.16 33.5V54.1M494.17 32.6V55.5M500.49 30.7V64.2M506.74 32.4V53.3M508.91 33.2V57.9M515.32 32.9V56.9M521.55 32.4V54.0M523.56 33.9V60.3M527.82 31.8V57.1M531.92 30.8V56.8M534.03 33.3V57.5M536.16 33.1V56.2M538.28 31.5V54.0M540.43 30.5V60.6M544.50 31.8V53.7" stroke="#0072BD" stroke-width="1.25" fill="none" opacity="0.50"/>
<path d="M380.88 32.7V56.6M383.07 31.3V53.1M410.23 31.3V57.2M412.37 33.0V56.8M416.59 20.1V44.3M427.19 26.1V50.8M433.44 27.2V54.4M435.44 27.5V52.5M439.75 29.9V55.4M446.14 28.9V62.6M452.56 31.9V59.8M467.22 30.5V56.5M469.39 30.4V54.8M471.56 31.8V55.1M479.79 28.6V56.5M487.96 33.1V56.4M498.28 32.4V56.4M513.19 32.0V56.8M529.86 33.3V56.3" stroke="#0072BD" stroke-width="1.25" fill="none" opacity="0.70"/>
<path d="M385.17 32.3V57.2M387.34 30.5V59.8M389.41 31.7V57.5M391.44 30.8V54.8M395.83 30.7V54.8M401.94 33.8V61.6M403.99 33.4V57.4M408.10 32.2V56.3M414.39 18.9V39.5M418.64 21.0V45.9M420.84 25.2V46.8M422.97 28.5V47.6M437.61 29.6V55.6M444.10 29.8V62.5M450.42 31.1V53.9M454.64 30.1V57.1M460.96 27.9V59.6M473.60 31.0V58.1M483.86 30.4V54.9M485.87 31.1V56.1M492.16 30.8V56.4M496.28 32.6V57.5M502.56 32.3V57.7M504.61 32.6V57.9M511.11 30.9V53.6M517.45 31.7V56.1M519.50 33.6V54.4M525.65 33.9V56.1M542.48 31.1V55.9" stroke="#0072BD" stroke-width="1.25" fill="none" opacity="0.90"/>
<path d="M377.75 31.4V51.4M379.80 31.8V53.6M381.93 33.1V54.3M384.12 33.2V53.2M386.22 32.9V54.2M388.39 34.3V53.7M390.46 34.7V54.4M392.49 33.8V53.7M394.68 33.1V54.1M396.88 35.3V53.4M398.91 32.2V51.6M400.97 34.4V51.2M402.99 33.3V52.7M405.04 35.1V51.3M407.14 32.7V52.4M409.15 33.7V51.1M411.28 34.0V51.5M413.42 34.4V51.5M415.44 18.9V39.5M417.64 19.1V44.0M419.69 22.3V45.7M421.89 24.5V46.3M424.02 28.9V47.9M426.05 30.0V48.8M428.24 28.1V49.4M430.37 29.4V49.1M432.44 29.1V47.6M434.49 31.1V51.2M436.49 30.3V49.8M438.66 32.2V49.4M440.80 30.4V52.4M442.96 31.6V52.6M445.15 32.2V54.2M447.19 32.4V51.8M449.36 32.0V53.9M451.47 31.8V53.7M453.61 31.7V52.9M455.69 34.6V54.1M457.74 33.0V55.2M459.90 34.3V54.1M462.01 33.9V55.7M464.10 33.6V54.8M466.23 33.2V55.1M468.27 33.1V55.6M470.44 34.2V54.3M472.61 34.9V55.6M474.65 32.0V55.8M476.69 33.4V53.7M478.82 33.6V52.6M480.84 33.7V53.7M482.91 31.6V53.3M484.91 32.2V54.6M486.92 34.5V56.0M489.01 34.8V55.4M491.21 34.0V53.3M493.21 34.5V54.0M495.22 34.0V53.0M497.33 33.4V54.4M499.33 31.9V54.5M501.54 32.5V53.6M503.61 32.3V54.9M505.66 31.9V53.7M507.79 33.7V54.2M509.96 35.1V54.8M512.16 32.4V54.6M514.24 34.7V53.9M516.37 32.7V53.0M518.50 32.3V54.9M520.55 33.7V53.8M522.60 34.8V52.9M524.61 34.6V53.1M526.70 35.1V52.9M528.87 33.2V53.1M530.91 32.6V56.1M532.97 32.8V55.0M535.08 34.3V54.0M537.21 32.2V56.0M539.33 33.1V53.7M541.48 32.9V55.5M543.53 34.3V55.7" stroke="#0072BD" stroke-width="1.0" fill="none" opacity="0.18"/>
<path d="M377.75 34.0V51.1M379.80 34.2V50.9M381.93 33.6V51.7M384.12 33.7V51.0M386.22 33.9V51.1M388.39 34.0V50.7M390.46 35.0V51.1M392.49 35.2V50.6M394.68 34.8V50.9M396.88 35.0V50.6M398.91 35.9V50.5M400.97 36.3V51.5M402.99 36.2V51.3M405.04 36.6V51.4M407.14 36.3V51.1M409.15 35.4V51.2M411.28 35.3V50.4M413.42 35.7V51.7M415.44 21.1V39.5M417.64 22.4V43.5M419.69 24.1V43.2M421.89 25.5V44.9M424.02 28.7V45.5M426.05 29.5V45.6M428.24 29.3V46.4M430.37 29.4V47.6M432.44 31.6V46.8M434.49 31.9V48.4M436.49 32.8V47.9M438.66 33.1V48.9M440.80 33.8V49.5M442.96 33.3V51.1M445.15 33.6V50.8M447.19 33.9V52.2M449.36 33.7V52.0M451.47 35.3V52.1M453.61 34.9V51.5M455.69 34.5V52.5M457.74 35.2V52.6M459.90 34.3V53.0M462.01 35.4V51.7M464.10 35.6V52.3M466.23 34.1V52.4M468.27 35.6V51.9M470.44 34.4V53.5M472.61 35.6V52.7M474.65 35.1V53.5M476.69 35.8V52.0M478.82 34.5V51.9M480.84 35.5V52.7M482.91 34.2V52.0M484.91 34.3V53.0M486.92 35.1V52.8M489.01 35.2V53.4M491.21 35.3V52.6M493.21 35.1V52.5M495.22 34.6V52.3M497.33 34.9V53.4M499.33 34.5V53.1M501.54 34.7V51.9M503.61 34.9V53.5M505.66 34.1V53.0M507.79 34.6V52.0M509.96 35.5V53.2M512.16 34.4V52.1M514.24 34.4V52.1M516.37 34.2V52.3M518.50 35.6V52.2M520.55 35.4V52.8M522.60 34.8V52.1M524.61 35.4V53.2M526.70 35.0V51.9M528.87 35.1V53.5M530.91 35.2V52.5M532.97 35.7V52.3M535.08 34.5V52.6M537.21 35.0V52.4M539.33 34.8V53.1M541.48 35.3V52.6M543.53 35.0V52.5" stroke="#0072BD" stroke-width="1.0" fill="none" opacity="0.4"/>
<rect x="412.22" y="23.2" width="3.28" height="39.7" stroke="#EE7A7A" stroke-width="0.7" fill="none" opacity="0.40"/>
<rect x="416.86" y="23.2" width="1.80" height="39.7" stroke="#EE7A7A" stroke-width="0.7" fill="none" opacity="0.40"/>
<path d="M501.30 63.2V23.0" stroke="#EE7A7A" stroke-width="0.7" fill="none" opacity="0.40"/>
<rect x="375.80" y="13.20" width="169.80" height="60.20" fill="none" stroke="#404040" stroke-width="0.8"/>
<path d="M430.40 73.40v-1.80M430.40 13.20v1.80M485.00 73.40v-1.80M485.00 13.20v1.80M539.60 73.40v-1.80M539.60 13.20v1.80M375.80 43.30h1.80M545.60 43.30h-1.80" stroke="#404040" stroke-width="0.8" fill="none"/>
<text transform="translate(370.90 17.36) scale(0.960 1)" font-size="13.60" text-anchor="end">2000</text>
<text transform="translate(370.60 47.96) scale(0.960 1)" font-size="13.60" text-anchor="end">0</text>
<text transform="translate(370.40 77.76) scale(0.960 1)" font-size="13.60" text-anchor="end">−2000</text>
<text x="375.80" y="91.30" font-size="13.60" text-anchor="middle">0</text>
<text x="430.40" y="91.30" font-size="13.60" text-anchor="middle">1</text>
<text x="485.00" y="91.30" font-size="13.60" text-anchor="middle">2</text>
<text x="539.60" y="91.30" font-size="13.60" text-anchor="middle">3</text>
<text x="460.70" y="109.80" font-size="13.60" text-anchor="middle">Time/(s)</text>
<text transform="translate(332.00 44.30) rotate(-90)" font-size="13.30" text-anchor="middle">Amplitude/(g)</text>
<text x="468.90" y="131.40" font-size="13.80" letter-spacing="-0.3" text-anchor="middle">(<tspan font-weight="bold">b</tspan>)</text>
<path d="M242.54 193.5V153.7" stroke="#EE7A7A" stroke-width="0.7" fill="none" opacity="0.50"/>
<rect x="245.68" y="153.7" width="0.43" height="39.8" stroke="#EE7A7A" stroke-width="0.7" fill="none" opacity="0.90"/>
<rect x="391.24" y="152.8" width="2.87" height="41.0" stroke="#EE7A7A" stroke-width="0.7" fill="none" opacity="0.45"/>
<polygon fill="#0072BD" points="226.8,167.5 227.2,167.0 227.6,166.3 228.0,167.1 228.4,167.5 228.8,166.9 229.2,167.5 229.6,167.7 230.0,167.8 230.4,166.8 230.8,167.4 231.2,168.0 231.6,167.0 232.0,167.7 232.4,167.5 232.8,168.2 233.2,168.0 233.6,168.1 234.0,167.5 234.4,167.9 234.8,168.1 235.2,167.9 235.6,168.2 236.0,168.3 236.3,168.7 236.7,168.4 237.1,168.1 237.5,168.5 237.9,169.0 238.3,168.4 238.7,167.8 239.1,169.2 239.5,168.4 239.9,167.9 240.3,168.1 240.7,168.1 241.1,169.0 241.5,168.4 241.9,169.3 242.3,169.1 242.7,169.3 243.1,168.9 243.5,168.4 243.9,169.0 244.3,168.4 244.7,168.5 245.1,169.7 245.5,169.4 245.9,168.6 246.3,169.6 246.7,169.8 247.1,168.7 247.5,169.0 247.9,168.7 248.3,169.9 248.7,169.3 249.1,169.2 249.5,168.8 249.9,169.9 250.3,169.1 250.7,169.8 251.1,169.9 251.5,168.8 251.9,169.3 252.3,168.7 252.7,169.9 253.1,168.8 253.5,169.6 253.9,169.0 254.3,169.3 254.7,169.4 255.0,170.2 255.4,169.1 255.8,170.3 256.2,170.2 256.6,170.3 257.0,169.3 257.4,170.2 257.8,169.5 258.2,168.9 258.6,170.4 259.0,169.0 259.4,169.3 259.8,169.5 260.2,170.4 260.6,170.1 261.0,169.1 261.4,169.5 261.8,170.0 262.2,170.3 262.6,169.7 263.0,169.4 263.4,154.3 263.8,154.1 264.2,153.5 264.6,154.9 265.0,155.0 265.4,155.2 265.8,154.4 266.2,155.1 266.6,155.2 267.0,155.5 267.4,156.0 267.8,156.2 268.2,156.5 268.6,156.4 269.0,157.5 269.4,158.3 269.8,157.5 270.2,157.8 270.6,158.8 271.0,158.7 271.4,158.5 271.8,159.5 272.2,159.4 272.6,159.7 273.0,159.8 273.3,160.0 273.7,161.0 274.1,160.8 274.5,160.7 274.9,160.9 275.3,162.3 275.7,162.2 276.1,162.1 276.5,161.8 276.9,162.5 277.3,163.5 277.7,162.9 278.1,163.1 278.5,162.7 278.9,164.3 279.3,164.0 279.7,163.4 280.1,163.6 280.5,164.6 280.9,164.9 281.3,164.8 281.7,165.1 282.1,165.4 282.5,165.6 282.9,165.2 283.3,164.7 283.7,165.1 284.1,166.2 284.5,166.3 284.9,166.5 285.3,165.3 285.7,166.1 286.1,166.6 286.5,165.6 286.9,167.1 287.3,167.1 287.7,166.5 288.1,166.2 288.5,166.9 288.9,166.3 289.3,166.6 289.7,167.3 290.1,167.0 290.5,167.5 290.9,167.4 291.3,167.7 291.7,167.9 292.0,166.7 292.4,166.8 292.8,168.2 293.2,168.2 293.6,168.3 294.0,168.1 294.4,167.0 294.8,167.5 295.2,168.3 295.6,167.2 296.0,167.7 296.4,167.5 296.8,167.9 297.2,167.6 297.6,167.5 298.0,167.5 298.4,168.5 298.8,167.6 299.2,167.4 299.6,168.5 300.0,168.1 300.4,168.4 300.8,168.5 301.2,168.2 301.6,168.3 302.0,168.7 302.4,168.0 302.8,168.3 303.2,168.5 303.6,167.8 304.0,167.6 304.4,168.3 304.8,168.4 305.2,168.7 305.6,168.3 306.0,168.5 306.4,167.9 306.8,168.6 307.2,167.7 307.6,167.8 308.0,168.8 308.4,168.3 308.8,167.8 309.2,168.8 309.6,168.5 310.0,168.2 310.4,168.2 310.7,167.8 311.1,167.8 311.5,169.2 311.9,168.8 312.3,168.6 312.7,168.3 313.1,168.7 313.5,168.0 313.9,168.9 314.3,168.9 314.7,168.9 315.1,167.9 315.5,169.1 315.9,168.7 316.3,168.7 316.7,168.8 317.1,168.0 317.5,168.7 317.9,168.5 318.3,168.7 318.7,167.8 319.1,168.1 319.5,168.5 319.9,169.2 320.3,169.2 320.7,168.1 321.1,168.3 321.5,169.1 321.9,169.2 322.3,167.9 322.7,169.0 323.1,167.9 323.5,168.8 323.9,168.9 324.3,168.2 324.7,168.1 325.1,168.4 325.5,169.1 325.9,168.4 326.3,167.9 326.7,168.6 327.1,169.3 327.5,169.1 327.9,168.6 328.3,169.3 328.7,168.8 329.0,167.9 329.4,167.9 329.8,168.8 330.2,168.4 330.6,169.3 331.0,167.9 331.4,168.4 331.8,167.9 332.2,168.5 332.6,169.0 333.0,169.0 333.4,168.8 333.8,168.9 334.2,168.3 334.6,168.0 335.0,169.1 335.4,168.0 335.8,168.2 336.2,169.1 336.6,168.9 337.0,168.0 337.4,169.1 337.8,169.3 338.2,168.7 338.6,169.0 339.0,169.2 339.4,168.7 339.8,168.6 340.2,168.9 340.6,168.2 341.0,167.9 341.4,169.1 341.8,168.2 342.2,169.1 342.6,168.0 343.0,168.7 343.4,169.0 343.8,168.3 344.2,168.7 344.6,169.0 345.0,168.2 345.4,169.1 345.8,169.2 346.2,168.1 346.6,168.6 347.0,168.1 347.4,169.3 347.7,168.8 348.1,168.2 348.5,169.2 348.9,168.1 349.3,169.3 349.7,169.3 350.1,168.4 350.5,168.4 350.9,168.3 351.3,168.1 351.7,168.8 352.1,169.1 352.5,168.3 352.9,168.0 353.3,169.1 353.7,168.7 354.1,168.3 354.5,169.2 354.9,168.1 355.3,168.8 355.7,168.4 356.1,168.7 356.5,169.3 356.9,168.5 357.3,168.1 357.7,168.7 358.1,169.0 358.5,168.3 358.9,169.1 359.3,168.5 359.7,168.5 360.1,168.0 360.5,168.8 360.9,168.8 361.3,168.6 361.7,168.9 362.1,168.7 362.5,168.4 362.9,168.0 363.3,169.0 363.7,168.2 364.1,169.3 364.5,168.7 364.9,168.2 365.3,168.3 365.7,168.9 366.1,169.2 366.4,169.1 366.8,168.6 367.2,168.8 367.6,168.8 368.0,168.9 368.4,169.2 368.8,168.5 369.2,168.1 369.6,168.9 370.0,169.0 370.4,169.2 370.8,168.3 371.2,168.8 371.6,168.4 372.0,168.7 372.4,168.9 372.8,169.0 373.2,168.6 373.6,168.3 374.0,168.3 374.4,168.0 374.8,168.1 375.2,168.9 375.6,168.2 376.0,169.2 376.4,169.3 376.8,168.5 377.2,169.1 377.6,168.5 378.0,168.1 378.4,168.5 378.8,168.0 379.2,168.0 379.6,169.0 380.0,168.2 380.4,168.6 380.8,169.1 381.2,168.7 381.6,169.1 382.0,168.3 382.4,168.2 382.8,168.1 383.2,168.0 383.6,168.3 384.0,169.2 384.4,168.8 384.7,168.4 385.1,168.2 385.5,167.9 385.9,169.0 386.3,168.9 386.7,168.0 387.1,168.1 387.5,168.3 387.9,169.3 388.3,168.4 388.7,168.8 389.1,167.8 389.5,167.9 389.9,168.6 390.3,169.0 390.7,169.0 391.1,168.0 391.5,168.0 391.9,168.9 392.3,169.3 392.7,168.1 393.1,168.6 393.5,168.7 393.9,168.1 393.9,179.9 393.5,180.5 393.1,180.6 392.7,179.5 392.3,180.0 391.9,179.5 391.5,180.0 391.1,179.8 390.7,179.7 390.3,180.1 389.9,180.4 389.5,180.3 389.1,180.4 388.7,179.2 388.3,179.7 387.9,180.2 387.5,179.3 387.1,180.3 386.7,179.1 386.3,180.1 385.9,179.2 385.5,179.8 385.1,180.6 384.7,180.5 384.4,179.2 384.0,180.5 383.6,179.4 383.2,179.7 382.8,180.0 382.4,179.8 382.0,180.1 381.6,180.1 381.2,179.8 380.8,179.9 380.4,180.2 380.0,180.5 379.6,179.6 379.2,179.6 378.8,179.9 378.4,180.2 378.0,179.7 377.6,180.4 377.2,179.2 376.8,180.1 376.4,179.7 376.0,180.0 375.6,180.1 375.2,179.4 374.8,179.9 374.4,179.6 374.0,180.3 373.6,180.3 373.2,180.0 372.8,179.8 372.4,180.3 372.0,180.6 371.6,179.4 371.2,179.9 370.8,179.4 370.4,179.9 370.0,180.2 369.6,180.5 369.2,179.3 368.8,179.6 368.4,180.6 368.0,180.1 367.6,179.2 367.2,179.3 366.8,180.3 366.4,179.9 366.1,180.4 365.7,179.6 365.3,180.5 364.9,180.5 364.5,180.3 364.1,180.1 363.7,180.0 363.3,179.5 362.9,180.4 362.5,179.7 362.1,179.3 361.7,179.6 361.3,180.3 360.9,179.7 360.5,179.7 360.1,179.3 359.7,180.4 359.3,179.4 358.9,179.2 358.5,179.4 358.1,180.5 357.7,180.0 357.3,179.2 356.9,179.4 356.5,180.6 356.1,180.4 355.7,179.5 355.3,180.4 354.9,179.5 354.5,180.5 354.1,179.2 353.7,179.2 353.3,179.5 352.9,179.7 352.5,180.2 352.1,180.1 351.7,180.1 351.3,179.2 350.9,179.5 350.5,179.2 350.1,180.6 349.7,180.1 349.3,180.3 348.9,180.5 348.5,179.9 348.1,180.1 347.7,179.6 347.4,179.9 347.0,179.4 346.6,179.9 346.2,179.5 345.8,179.8 345.4,179.2 345.0,180.6 344.6,179.6 344.2,179.9 343.8,180.4 343.4,180.4 343.0,180.1 342.6,179.6 342.2,180.3 341.8,180.4 341.4,180.2 341.0,179.7 340.6,179.5 340.2,179.3 339.8,179.4 339.4,179.4 339.0,180.1 338.6,179.7 338.2,179.9 337.8,179.2 337.4,179.5 337.0,179.8 336.6,179.7 336.2,179.3 335.8,179.1 335.4,179.2 335.0,180.5 334.6,179.2 334.2,180.1 333.8,180.4 333.4,180.2 333.0,179.2 332.6,179.9 332.2,179.5 331.8,179.8 331.4,180.1 331.0,179.9 330.6,180.6 330.2,179.6 329.8,179.3 329.4,180.4 329.0,180.0 328.7,180.6 328.3,179.6 327.9,179.8 327.5,179.7 327.1,180.4 326.7,180.5 326.3,179.8 325.9,179.6 325.5,179.9 325.1,180.6 324.7,179.3 324.3,179.9 323.9,180.0 323.5,179.8 323.1,180.0 322.7,179.5 322.3,180.5 321.9,179.3 321.5,179.2 321.1,179.2 320.7,180.2 320.3,179.5 319.9,179.7 319.5,179.7 319.1,179.3 318.7,180.3 318.3,179.9 317.9,179.9 317.5,180.2 317.1,180.2 316.7,179.4 316.3,179.5 315.9,180.1 315.5,179.4 315.1,180.4 314.7,180.0 314.3,180.0 313.9,179.7 313.5,179.3 313.1,180.5 312.7,179.6 312.3,180.5 311.9,179.5 311.5,180.4 311.1,180.4 310.7,180.4 310.4,180.3 310.0,179.1 309.6,179.7 309.2,179.2 308.8,180.3 308.4,180.0 308.0,179.3 307.6,180.1 307.2,178.9 306.8,179.3 306.4,179.4 306.0,180.0 305.6,179.0 305.2,180.0 304.8,179.7 304.4,179.6 304.0,179.5 303.6,179.1 303.2,179.6 302.8,179.9 302.4,178.9 302.0,179.4 301.6,179.8 301.2,178.8 300.8,178.3 300.4,179.0 300.0,178.9 299.6,178.5 299.2,178.6 298.8,179.3 298.4,179.3 298.0,178.9 297.6,178.5 297.2,178.3 296.8,179.3 296.4,178.0 296.0,178.3 295.6,178.0 295.2,178.9 294.8,178.7 294.4,178.2 294.0,177.9 293.6,178.3 293.2,178.4 292.8,178.2 292.4,177.7 292.0,177.3 291.7,177.0 291.3,177.3 290.9,177.7 290.5,177.4 290.1,177.5 289.7,176.9 289.3,176.2 288.9,177.3 288.5,177.1 288.1,176.7 287.7,177.0 287.3,176.1 286.9,176.9 286.5,176.0 286.1,176.4 285.7,175.3 285.3,175.1 284.9,175.0 284.5,175.0 284.1,174.8 283.7,175.4 283.3,175.0 282.9,174.4 282.5,175.7 282.1,175.3 281.7,175.4 281.3,174.2 280.9,175.3 280.5,173.8 280.1,174.6 279.7,174.0 279.3,173.9 278.9,174.4 278.5,173.3 278.1,173.5 277.7,174.2 277.3,173.9 276.9,173.1 276.5,172.6 276.1,173.1 275.7,173.4 275.3,173.2 274.9,173.3 274.5,172.6 274.1,172.2 273.7,172.5 273.3,172.5 273.0,171.7 272.6,171.7 272.2,172.5 271.8,171.3 271.4,171.7 271.0,171.0 270.6,171.1 270.2,170.9 269.8,171.5 269.4,171.9 269.0,171.2 268.6,171.6 268.2,170.3 267.8,171.0 267.4,170.2 267.0,171.1 266.6,169.7 266.2,170.4 265.8,169.9 265.4,170.0 265.0,169.9 264.6,169.7 264.2,170.4 263.8,169.5 263.4,169.7 263.0,177.7 262.6,177.9 262.2,178.2 261.8,178.1 261.4,177.6 261.0,177.5 260.6,177.6 260.2,177.9 259.8,178.8 259.4,178.8 259.0,178.2 258.6,178.7 258.2,177.8 257.8,178.9 257.4,178.0 257.0,178.1 256.6,178.3 256.2,177.7 255.8,178.0 255.4,177.5 255.0,177.9 254.7,177.7 254.3,178.7 253.9,177.7 253.5,178.5 253.1,177.8 252.7,178.8 252.3,177.9 251.9,178.7 251.5,177.5 251.1,178.6 250.7,178.3 250.3,177.7 249.9,177.8 249.5,178.9 249.1,178.4 248.7,177.5 248.3,178.1 247.9,178.6 247.5,178.6 247.1,178.1 246.7,178.0 246.3,178.5 245.9,178.5 245.5,178.2 245.1,178.8 244.7,178.9 244.3,178.5 243.9,178.6 243.5,178.2 243.1,178.6 242.7,178.1 242.3,177.9 241.9,178.0 241.5,178.2 241.1,178.2 240.7,177.7 240.3,178.2 239.9,178.9 239.5,177.8 239.1,177.9 238.7,178.5 238.3,178.5 237.9,178.5 237.5,177.5 237.1,178.2 236.7,178.1 236.3,178.6 236.0,178.8 235.6,178.5 235.2,178.0 234.8,178.0 234.4,177.9 234.0,177.9 233.6,178.7 233.2,178.2 232.8,178.2 232.4,178.2 232.0,178.6 231.6,177.7 231.2,178.3 230.8,178.9 230.4,177.5 230.0,178.1 229.6,178.8 229.2,177.6 228.8,178.7 228.4,178.2 228.0,177.6 227.6,178.3 227.2,178.6 226.8,178.6"/>
<path d="M227.20 159.7V190.1M229.25 159.7V188.2M231.38 161.9V189.2M233.57 160.1V184.9M235.67 161.3V190.0M237.84 159.0V193.3M239.91 160.4V190.4M241.94 159.3V187.0M244.13 160.0V189.0M246.33 159.0V187.0M248.36 160.9V185.0M250.42 160.1V185.5M252.44 162.9V195.5M254.49 162.3V190.2M256.59 162.4V189.1M258.60 160.8V188.9M260.73 159.7V190.0M262.87 161.8V189.5M264.89 148.0V169.9M267.09 149.2V176.1M269.14 151.7V178.0M271.34 154.8V178.9M273.47 158.6V179.7M275.50 159.4V180.7M277.69 155.0V183.4M279.82 150.8V185.2M281.89 154.8V186.4M283.94 155.7V187.4M285.94 156.0V184.9M288.11 158.3V188.7M290.25 158.7V188.1M292.41 160.2V189.1M294.60 158.4V196.6M296.64 157.3V188.3M298.81 161.5V190.1M300.92 159.9V185.7M303.06 160.9V193.0M305.14 158.6V189.6M307.19 162.0V186.2M309.35 161.8V190.0M311.46 155.6V192.6M313.55 158.9V189.3M315.68 160.9V191.1M317.72 158.9V188.7M319.89 158.8V186.6M322.06 160.6V186.9M324.10 159.6V190.7M326.14 162.1V185.3M328.27 162.9V185.0M330.29 156.5V188.7M332.36 159.4V187.4M334.36 158.8V186.7M336.37 159.7V188.2M338.46 162.1V188.6M340.66 162.7V185.7M342.66 159.3V188.5M344.67 161.5V187.5M346.78 161.6V189.9M348.78 161.4V188.6M350.99 159.1V198.4M353.06 161.1V190.2M355.11 161.5V190.4M357.24 161.4V184.7M359.41 162.4V190.4M361.61 159.4V185.1M363.69 160.8V189.0M365.82 161.9V189.2M367.95 160.4V188.2M370.00 162.8V186.1M372.05 161.3V185.6M374.06 163.2V193.5M376.15 163.1V188.2M378.32 160.6V189.4M380.36 162.4V188.4M382.42 159.3V189.1M384.53 162.4V189.9M386.66 162.2V188.4M388.78 160.2V185.6M390.93 158.9V193.8M392.98 159.7V187.9" stroke="#0072BD" stroke-width="1.2" fill="none" opacity="0.5"/>
<path d="M227.20 161.2V187.7M229.25 161.3V186.2M244.13 161.8V186.8M248.36 162.6V183.6M250.42 162.0V184.0M256.59 163.9V186.9M275.50 159.9V179.1M279.82 153.5V183.0M281.89 156.8V184.0M292.41 161.6V186.8M298.81 162.9V187.9M307.19 163.3V184.8M309.35 163.1V187.9M313.55 160.8V187.4M315.68 162.4V188.8M326.14 163.4V184.1M328.27 164.1V184.0M332.36 161.2V185.9M340.66 163.9V184.5M344.67 163.0V185.9M350.99 161.1V194.6M357.24 162.8V183.7M359.41 163.6V188.3M365.82 163.3V187.3M372.05 162.8V184.4M374.06 164.3V190.7M378.32 162.3V187.5M382.42 161.2V187.2M384.53 163.7V187.9M386.66 163.5V186.7M388.78 161.9V184.4M390.93 160.9V191.0" stroke="#0072BD" stroke-width="1.25" fill="none" opacity="0.50"/>
<path d="M231.38 163.1V187.0M233.57 161.7V183.5M260.73 161.8V187.6M262.87 163.5V187.2M267.09 150.6V175.0M277.69 156.6V181.4M283.94 157.7V185.0M285.94 158.0V183.1M290.25 160.4V185.8M296.64 159.4V186.3M303.06 162.4V190.2M317.72 160.9V186.9M319.89 160.8V185.2M322.06 162.2V185.5M330.29 159.0V186.9M338.46 163.5V186.8M348.78 162.8V186.8M363.69 162.4V187.2M380.36 163.7V186.7" stroke="#0072BD" stroke-width="1.25" fill="none" opacity="0.70"/>
<path d="M235.67 162.7V187.6M237.84 160.9V190.2M239.91 162.1V187.9M241.94 161.2V185.2M246.33 161.1V185.2M252.44 164.2V192.0M254.49 163.8V187.8M258.60 162.6V186.7M264.89 149.4V169.9M269.14 152.9V176.6M271.34 155.7V177.4M273.47 159.0V178.2M288.11 160.0V186.2M294.60 160.3V192.9M300.92 161.6V184.3M305.14 160.6V187.5M311.46 158.2V190.0M324.10 161.4V188.5M334.36 160.8V185.3M336.37 161.5V186.5M342.66 161.2V186.8M346.78 163.0V187.9M353.06 162.7V188.1M355.11 163.0V188.3M361.61 161.3V184.0M367.95 162.1V186.5M370.00 164.0V184.8M376.15 164.3V186.5M392.98 161.5V186.3" stroke="#0072BD" stroke-width="1.25" fill="none" opacity="0.90"/>
<path d="M228.25 161.8V181.8M230.30 162.2V184.0M232.43 163.5V184.7M234.62 163.6V183.6M236.72 163.3V184.6M238.89 164.7V184.1M240.96 165.1V184.8M242.99 164.2V184.1M245.18 163.5V184.5M247.38 165.7V183.8M249.41 162.6V182.0M251.47 164.8V181.6M253.49 163.7V183.1M255.54 165.5V181.7M257.64 163.1V182.8M259.65 164.1V181.5M261.78 164.4V181.9M263.92 164.8V181.9M265.94 149.4V169.9M268.14 149.6V174.6M270.19 153.6V176.2M272.39 155.0V176.8M274.52 159.4V178.5M276.55 160.5V179.3M278.74 158.7V179.9M280.87 158.4V179.6M282.94 159.6V178.1M284.99 161.6V181.8M286.99 160.9V180.3M289.16 162.7V179.9M291.30 160.9V183.0M293.46 162.1V183.2M295.65 162.6V184.8M297.69 162.9V182.4M299.86 162.5V184.4M301.97 162.2V184.1M304.11 162.2V183.4M306.19 165.0V184.6M308.24 163.5V185.6M310.40 164.7V184.5M312.51 164.3V186.2M314.60 164.0V185.2M316.73 163.6V185.5M318.77 163.5V186.0M320.94 164.7V184.7M323.11 165.3V186.0M325.15 162.4V186.2M327.19 163.8V184.1M329.32 164.0V183.0M331.34 164.1V184.1M333.41 162.0V183.7M335.41 162.6V185.0M337.42 164.9V186.4M339.51 165.2V185.8M341.71 164.4V183.7M343.71 164.9V184.4M345.72 164.4V183.4M347.83 163.8V184.8M349.83 162.3V184.9M352.04 162.9V184.0M354.11 162.7V185.3M356.16 162.3V184.1M358.29 164.1V184.6M360.46 165.6V185.2M362.66 162.8V185.0M364.74 165.1V184.3M366.87 163.1V183.4M369.00 162.7V185.3M371.05 164.1V184.2M373.10 165.2V183.3M375.11 165.0V183.5M377.20 165.5V183.3M379.37 163.6V183.5M381.41 163.0V186.5M383.47 163.2V185.4M385.58 164.7V184.4M387.71 162.6V186.4M389.83 163.5V184.1M391.98 163.3V185.9" stroke="#0072BD" stroke-width="1.0" fill="none" opacity="0.18"/>
<path d="M228.25 164.4V181.5M230.30 164.6V181.3M232.43 164.0V182.1M234.62 164.1V181.4M236.72 164.3V181.5M238.89 164.5V181.1M240.96 165.4V181.5M242.99 165.6V181.0M245.18 165.2V181.3M247.38 165.5V181.0M249.41 166.3V180.9M251.47 166.7V181.9M253.49 166.6V181.7M255.54 167.1V181.8M257.64 166.7V181.5M259.65 165.8V181.6M261.78 165.7V180.8M263.92 166.1V182.1M265.94 151.7V169.9M268.14 153.1V174.0M270.19 154.8V173.7M272.39 156.1V175.4M274.52 159.2V176.0M276.55 160.0V176.1M278.74 159.9V176.9M280.87 160.0V178.2M282.94 162.2V177.4M284.99 162.4V179.0M286.99 163.3V178.4M289.16 163.6V179.5M291.30 164.3V180.1M293.46 163.8V181.7M295.65 164.1V181.3M297.69 164.3V182.8M299.86 164.1V182.4M301.97 165.7V182.6M304.11 165.3V181.9M306.19 165.0V183.0M308.24 165.6V183.0M310.40 164.7V183.5M312.51 165.8V182.2M314.60 166.0V182.8M316.73 164.5V182.8M318.77 166.0V182.3M320.94 164.8V183.9M323.11 166.0V183.1M325.15 165.5V183.9M327.19 166.2V182.4M329.32 164.9V182.3M331.34 165.9V183.1M333.41 164.6V182.4M335.41 164.7V183.4M337.42 165.5V183.2M339.51 165.6V183.8M341.71 165.7V183.0M343.71 165.5V182.9M345.72 165.0V182.7M347.83 165.3V183.8M349.83 164.9V183.5M352.04 165.1V182.3M354.11 165.3V183.9M356.16 164.5V183.4M358.29 165.0V182.4M360.46 165.9V183.6M362.66 164.8V182.5M364.74 164.8V182.5M366.87 164.6V182.7M369.00 166.0V182.6M371.05 165.8V183.2M373.10 165.2V182.5M375.11 165.8V183.6M377.20 165.4V182.3M379.37 165.5V183.9M381.41 165.6V182.9M383.47 166.1V182.7M385.58 164.9V183.0M387.71 165.4V182.8M389.83 165.2V183.5M391.98 165.7V183.0" stroke="#0072BD" stroke-width="1.0" fill="none" opacity="0.4"/>
<path d="M242.54 193.5V153.7" stroke="#EE7A7A" stroke-width="0.7" fill="none" opacity="0.22"/>
<rect x="245.68" y="153.7" width="0.43" height="39.8" stroke="#EE7A7A" stroke-width="0.7" fill="none" opacity="0.40"/>
<rect x="391.24" y="152.8" width="2.87" height="41.0" stroke="#EE7A7A" stroke-width="0.7" fill="none" opacity="0.20"/>
<rect x="226.30" y="143.60" width="168.00" height="60.20" fill="none" stroke="#404040" stroke-width="0.8"/>
<path d="M280.43 203.80v-1.80M280.43 143.60v1.80M334.57 203.80v-1.80M334.57 143.60v1.80M388.70 203.80v-1.80M388.70 143.60v1.80M226.30 173.70h1.80M394.30 173.70h-1.80" stroke="#404040" stroke-width="0.8" fill="none"/>
<text transform="translate(221.40 147.76) scale(0.960 1)" font-size="13.60" text-anchor="end">2000</text>
<text transform="translate(221.10 178.36) scale(0.960 1)" font-size="13.60" text-anchor="end">0</text>
<text transform="translate(220.90 208.16) scale(0.960 1)" font-size="13.60" text-anchor="end">−2000</text>
<text x="226.30" y="221.50" font-size="13.60" text-anchor="middle">0</text>
<text x="280.43" y="221.50" font-size="13.60" text-anchor="middle">1</text>
<text x="334.57" y="221.50" font-size="13.60" text-anchor="middle">2</text>
<text x="388.70" y="221.50" font-size="13.60" text-anchor="middle">3</text>
<text x="310.30" y="239.80" font-size="13.60" text-anchor="middle">Time/(s)</text>
<text transform="translate(182.80 174.80) rotate(-90)" font-size="13.30" text-anchor="middle">Amplitude/(g)</text>
<text x="292.60" y="254.60" font-size="13.80" letter-spacing="-0.3" text-anchor="middle">(<tspan font-weight="bold">c</tspan>)</text>
</svg>
</body></html>
